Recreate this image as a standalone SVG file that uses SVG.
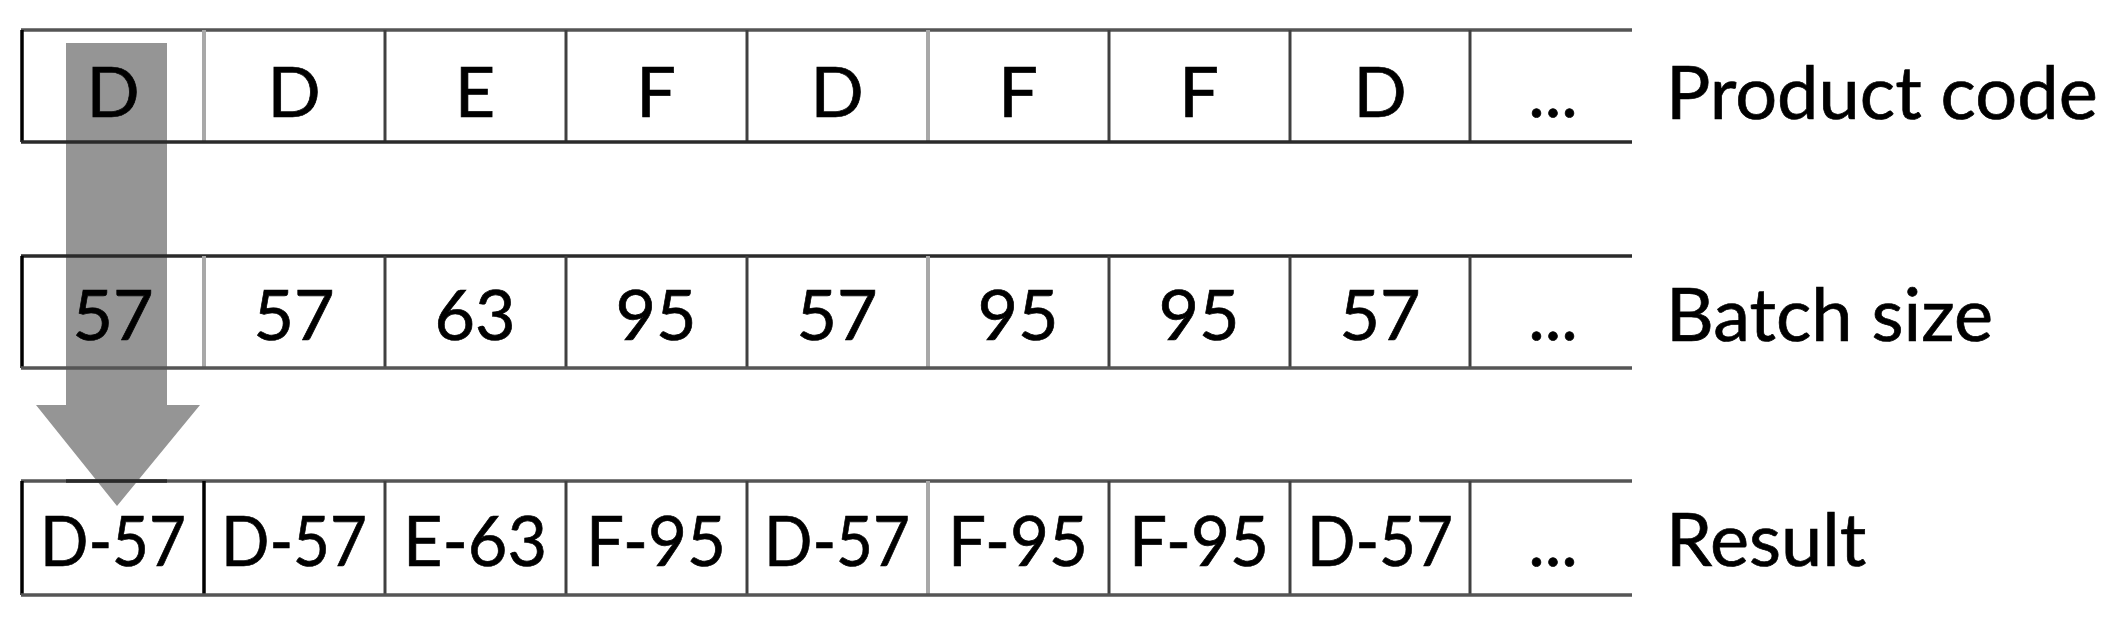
<svg xmlns="http://www.w3.org/2000/svg" width="2115" height="619" viewBox="0 0 2115 619">
<style>
.cell{font-family:Lato,"Liberation Sans",sans-serif;font-size:70px;fill:#000;stroke:#000;stroke-width:0.7;text-anchor:middle}
.lab{font-family:Lato,"Liberation Sans",sans-serif;font-size:74px;fill:#000;stroke:#000;stroke-width:0.7}
.h{stroke:#2a2a2a;stroke-width:3.5}
.hg{stroke:#555;stroke-width:3.5}
.v{stroke:#404040;stroke-width:3}
.vl{stroke:#a8a8a8;stroke-width:4}
.vb{stroke:#000;stroke-width:3.5}
</style>
<rect width="2115" height="619" fill="#fff"/>
<g id="connectors">
<path d="M66 43 H167 V405 H200 L117 506 L36 405 H66 Z" fill="#959595"/>
</g>
<g id="row-product">
<line class="hg" x1="21" y1="30" x2="1632" y2="30"/>
<line class="vb" x1="22" y1="30" x2="22" y2="142"/>
<line class="vl" x1="204" y1="30" x2="204" y2="142"/>
<line class="v" x1="385" y1="30" x2="385" y2="142"/>
<line class="v" x1="566" y1="30" x2="566" y2="142"/>
<line class="v" x1="747" y1="30" x2="747" y2="142"/>
<line class="vl" x1="928" y1="30" x2="928" y2="142"/>
<line class="v" x1="1109" y1="30" x2="1109" y2="142"/>
<line class="v" x1="1290" y1="30" x2="1290" y2="142"/>
<line class="v" x1="1470" y1="30" x2="1470" y2="142"/>
<line class="h" x1="21" y1="142" x2="1632" y2="142"/>
<text class="cell" x="113" y="117">D</text>
<text class="cell" x="294" y="117">D</text>
<text class="cell" x="475" y="117">E</text>
<text class="cell" x="656" y="117">F</text>
<text class="cell" x="837" y="117">D</text>
<text class="cell" x="1018" y="117">F</text>
<text class="cell" x="1199" y="117">F</text>
<text class="cell" x="1380" y="117">D</text>
<text class="cell" x="1553" y="117">...</text>
<text class="lab" x="1666" y="119">Product code</text>
</g>
<g id="row-batch">
<line class="h" x1="21" y1="256" x2="1632" y2="256"/>
<line class="vb" x1="22" y1="256" x2="22" y2="368"/>
<line class="vl" x1="204" y1="256" x2="204" y2="368"/>
<line class="v" x1="385" y1="256" x2="385" y2="368"/>
<line class="v" x1="566" y1="256" x2="566" y2="368"/>
<line class="v" x1="747" y1="256" x2="747" y2="368"/>
<line class="vl" x1="928" y1="256" x2="928" y2="368"/>
<line class="v" x1="1109" y1="256" x2="1109" y2="368"/>
<line class="v" x1="1290" y1="256" x2="1290" y2="368"/>
<line class="v" x1="1470" y1="256" x2="1470" y2="368"/>
<line class="hg" x1="21" y1="368" x2="1632" y2="368"/>
<text class="cell" x="113" y="340">57</text>
<text class="cell" x="294" y="340">57</text>
<text class="cell" x="475" y="340">63</text>
<text class="cell" x="656" y="340">95</text>
<text class="cell" x="837" y="340">57</text>
<text class="cell" x="1018" y="340">95</text>
<text class="cell" x="1199" y="340">95</text>
<text class="cell" x="1380" y="340">57</text>
<text class="cell" x="1553" y="340">...</text>
<text class="lab" x="1666" y="341">Batch size</text>
</g>
<g id="row-result">
<line class="hg" x1="21" y1="481" x2="1632" y2="481"/>
<line class="h" x1="66" y1="481" x2="167" y2="481"/>
<line class="vb" x1="22" y1="481" x2="22" y2="595"/>
<line class="vb" x1="204" y1="481" x2="204" y2="595"/>
<line class="v" x1="385" y1="481" x2="385" y2="595"/>
<line class="v" x1="566" y1="481" x2="566" y2="595"/>
<line class="v" x1="747" y1="481" x2="747" y2="595"/>
<line class="vl" x1="928" y1="481" x2="928" y2="595"/>
<line class="v" x1="1109" y1="481" x2="1109" y2="595"/>
<line class="v" x1="1290" y1="481" x2="1290" y2="595"/>
<line class="v" x1="1470" y1="481" x2="1470" y2="595"/>
<line class="hg" x1="21" y1="595" x2="1632" y2="595"/>
<text class="cell" x="113" y="566" textLength="146" lengthAdjust="spacingAndGlyphs">D-57</text>
<text class="cell" x="294" y="566" textLength="146" lengthAdjust="spacingAndGlyphs">D-57</text>
<text class="cell" x="475" y="566" textLength="144" lengthAdjust="spacingAndGlyphs">E-63</text>
<text class="cell" x="656" y="566" textLength="140" lengthAdjust="spacingAndGlyphs">F-95</text>
<text class="cell" x="837" y="566" textLength="146" lengthAdjust="spacingAndGlyphs">D-57</text>
<text class="cell" x="1018" y="566" textLength="140" lengthAdjust="spacingAndGlyphs">F-95</text>
<text class="cell" x="1199" y="566" textLength="140" lengthAdjust="spacingAndGlyphs">F-95</text>
<text class="cell" x="1380" y="566" textLength="146" lengthAdjust="spacingAndGlyphs">D-57</text>
<text class="cell" x="1553" y="566">...</text>
<text class="lab" x="1666" y="566">Result</text>
</g>
</svg>
